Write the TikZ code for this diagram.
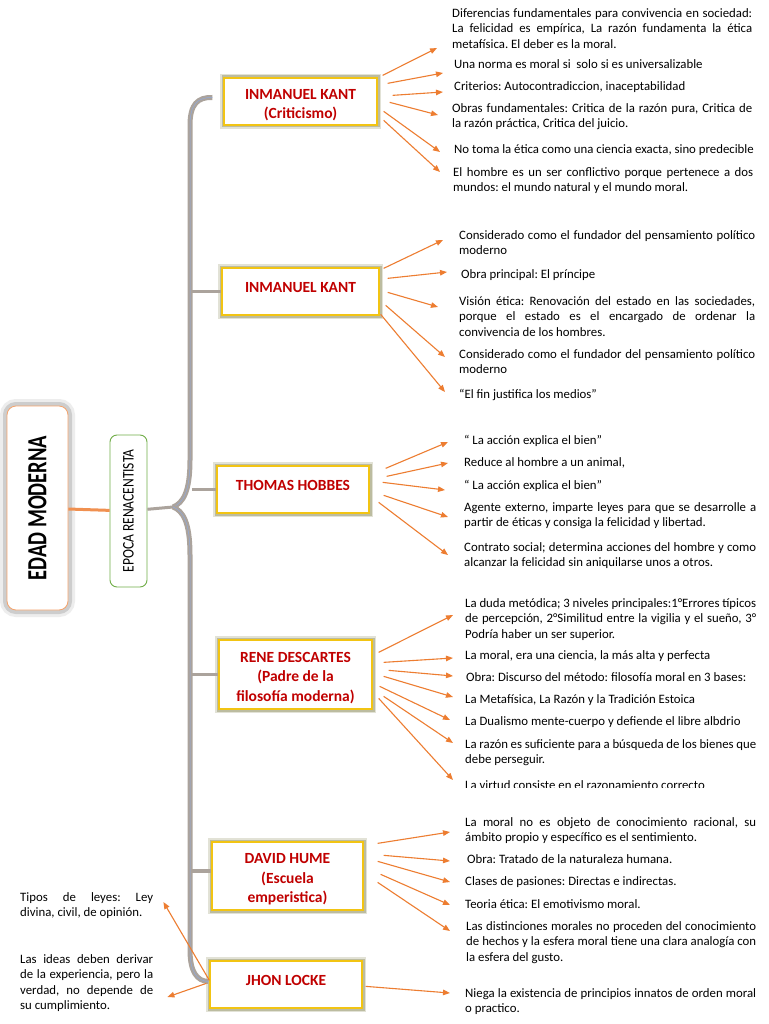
\documentclass[tikz,border=0pt]{standalone}
\usepackage{fontspec}
\setmainfont{Carlito}
\usetikzlibrary{arrows.meta,calc}
\definecolor{arrc}{HTML}{ED7D31}
\definecolor{titc}{HTML}{C00000}
\definecolor{boxb}{HTML}{F2C413}
\definecolor{shad}{HTML}{ADAD8A}
\definecolor{brc}{HTML}{ABA39C}
\definecolor{brl}{HTML}{8FAADC}
\definecolor{edadb}{HTML}{F4A36C}
\definecolor{epocb}{HTML}{70AD47}
\tikzset{
 phil/.style={draw=boxb, line width=1.3pt, fill=white, text=titc,
   font={\fontsize{15.5}{19.5}\selectfont\bfseries}, align=center, inner sep=0pt,
   preaction={draw=shad, line width=8pt, opacity=0.35},
   preaction={draw=shad, line width=5pt, opacity=0.7}},
 txt/.style={anchor=north west, inner sep=0pt, text width=#1, align=justify,
   font={\fontsize{12.8}{15.5}\selectfont\frenchspacing}, text=black},
 txt/.default=300pt,
 one/.style={anchor=north west, inner sep=0pt,
   font={\fontsize{12.8}{15.5}\selectfont\frenchspacing}, text=black},
 arw/.style={draw=arrc, line width=1.1pt, -{Triangle[length=7pt,width=5.5pt]}},
 stub/.style={draw=brc, line width=3.2pt},
 bracel/.style={draw=brc, line width=5pt, postaction={draw=brl, line width=0.5pt}},
}
\newcommand{\upr}{\rule[-9pt]{0pt}{9pt}}
\newcommand{\dnr}{\rule{0pt}{17pt}}
\frenchspacing
\begin{document}
\begin{tikzpicture}[x=1pt,y=-1pt]
\useasboundingbox[fill=white] (0,0) rectangle (768,1024);

% ---- left column
\node[draw=edadb, line width=0.8pt, rounded corners=9pt, fill=white, rotate=90,
      minimum width=204pt, minimum height=61pt, inner sep=0pt,
      preaction={draw=gray!40, line width=14pt, opacity=0.35},
      preaction={draw=gray!55, line width=8pt, opacity=0.6},
      font={\fontsize{20.5}{24}\selectfont\bfseries}] (edad) at (37.5,508)
      {\scalebox{1}[1.35]{EDAD MODERNA}};
\node[draw=epocb, line width=0.9pt, rounded corners=7pt, fill=white, rotate=90,
      minimum width=152pt, minimum height=37pt, inner sep=0pt,
      font={\fontsize{13.5}{16}\selectfont}] (ep) at (128.5,511)
      {\scalebox{1}[1.2]{EPOCA RENACENTISTA}};
\draw[draw=arrc!85, line width=3pt] (edad) -- (ep);

% ---- philosopher boxes
\node[phil, minimum width=153pt, minimum height=47pt] (k1) at (300.5,101.5) {\dnr INMANUEL KANT\\(Criticismo)};
\node[phil, minimum width=157pt, minimum height=47pt] (k2) at (300.5,291.5) {\upr INMANUEL KANT};
\node[phil, minimum width=152pt, minimum height=47pt] (hb) at (293,489.5) {\upr THOMAS HOBBES};
\node[phil, minimum width=153pt, minimum height=69pt] (ds) at (295.5,674.5) {\dnr RENE DESCARTES\\(Padre de la\\filosofía moderna)};
\node[phil, minimum width=151pt, minimum height=68pt] (hm) at (287.5,876) {\dnr DAVID HUME\\(Escuela\\emperistica)};
\node[phil, minimum width=152pt, minimum height=47pt] (lk) at (286,984.5) {\upr JHON LOCKE};

% ---- brace
\coordinate (br) at (173,507);
\coordinate (sp) at (190,500);
\draw[brc, line width=3pt] (ep) -- (br);
\draw[bracel] (br) .. controls (183,503) and (190,492) .. (190,460) -- (190,125)
   .. controls (190,104) and (198,97) .. ([shift={(-11,-4)}]k1.west);
\draw[bracel] (br) .. controls (183,511) and (190,522) .. (190,555) -- (190,950)
   .. controls (190,972) and (197,981) .. ([shift={(-1,-3)}]lk.west);
\coordinate (hmst) at ([yshift=5pt]hm.west);
\draw[stub] ([xshift=2pt]k2.west -| sp) -- (k2.west);
\draw[stub] ([xshift=2pt]hb.west -| sp) -- (hb.west);
\draw[stub] ([xshift=2pt]ds.west -| sp) -- (ds.west);
\draw[stub] ([xshift=2pt]hmst -| sp) -- (hmst);

% ---- Kant (Criticismo)
\node[txt] (k1a) at (452,8) {Diferencias fundamentales para convivencia en sociedad:\linebreak La felicidad es empírica, La razón fundamenta la ética\linebreak metafísica. El deber es la moral.};
\node[one] (k1b) at (454,59) {Una norma es moral si \ solo si es universalizable};
\node[one] (k1c) at (454,81) {Criterios: Autocontradiccion, inaceptabilidad};
\node[txt] (k1d) at (452,103) {Obras fundamentales: Critica de la razón pura, Critica de\linebreak la razón práctica, Critica del juicio.};
\node[one] (k1e) at (454,144) {No toma la ética como una ciencia exacta, sino predecible};
\node[txt] (k1f) at (453,167) {El hombre es un ser conflictivo porque pertenece a dos\linebreak mundos: el mundo natural y el mundo moral.};
\draw[arw] ([shift={(5,-2)}]k1.north east) -- ([shift={(-15,40)}]k1a.north west);
\draw[arw] ([shift={(10,6)}]k1.north east) -- ([shift={(-11,14)}]k1b.north west);
\draw[arw] ([shift={(15,18)}]k1.north east) -- ([shift={(-11,11)}]k1c.north west);
\draw[arw] ([shift={(12,25)}]k1.north east) -- ([shift={(-14,12)}]k1d.north west);
\draw[arw] ([shift={(6,34)}]k1.north east) -- ([shift={(-14,8)}]k1e.north west);
\draw[arw] ([shift={(6,43)}]k1.north east) -- ([shift={(-13,5)}]k1f.north west);

% ---- Kant 2
\node[txt=296pt] (k2a) at (459,230) {Considerado como el fundador del pensamiento político\linebreak moderno};
\node[one] (k2b) at (461,269) {Obra principal: El príncipe};
\node[txt=296pt] (k2c) at (459,296) {Visión ética: Renovación del estado en las sociedades,\linebreak porque el estado es el encargado de ordenar la\linebreak convivencia de los hombres.};
\node[txt=296pt] (k2d) at (459,349) {Considerado como el fundador del pensamiento político\linebreak moderno};
\node[one] (k2e) at (459,389) {“El fin justifica los medios”};
\draw[arw] ([shift={(4,1)}]k2.north east) -- ([shift={(-16,10)}]k2a.north west);
\draw[arw] ([shift={(8,11)}]k2.north east) -- ([shift={(-14,3)}]k2b.north west);
\draw[arw] ([shift={(8,25)}]k2.north east) -- ([shift={(-21,11)}]k2c.north west);
\draw[arw] ([shift={(6,38)}]k2.north east) -- ([shift={(-14,8)}]k2d.north west);
\draw[arw] ([shift={(1,47)}]k2.north east) -- ([shift={(-14,3)}]k2e.north west);

% ---- Hobbes
\node[one] (h1) at (464,435) {“ La acción explica el bien”};
\node[one] (h2) at (464,457) {Reduce al hombre a un animal,};
\node[one] (h3) at (464,480) {“ La acción explica el bien”};
\node[txt=292pt] (h4) at (464,502) {Agente externo, imparte leyes para que se desarrolle a\linebreak partir de éticas y consiga la felicidad y libertad.};
\node[txt=292pt] (h5) at (464,542) {Contrato social; determina acciones del hombre y como\linebreak alcanzar la felicidad sin aniquilarse unos a otros.};
\draw[arw] ([shift={(16,3)}]hb.north east) -- ([shift={(-16,7)}]h1.north west);
\draw[arw] ([shift={(17,11)}]hb.north east) -- ([shift={(-16,6)}]h2.north west);
\draw[arw] ([shift={(13,17)}]hb.north east) -- ([shift={(-19,10)}]h3.north west);
\draw[arw] ([shift={(14,30)}]hb.north east) -- ([shift={(-16,15)}]h4.north west);
\draw[arw] ([shift={(9,37)}]hb.north east) -- ([shift={(-16,13)}]h5.north west);

% ---- Descartes
\node[txt=291pt] (d1) at (465,598) {La duda metódica; 3 niveles principales:1°Errores típicos\linebreak de percepción, 2°Similitud entre la vigilia y el sueño, 3°\linebreak Podría haber un ser superior.};
\node[one] (d2) at (465,650) {La moral, era una ciencia, la más alta y perfecta};
\node[one] (d3) at (466,672) {Obra: Discurso del método: filosofía moral en 3 bases:};
\node[one] (d4) at (465,694) {La Metafísica, La Razón y la Tradición Estoica};
\node[one] (d5) at (465,716) {La Dualismo mente-cuerpo y defiende el libre albdrio};
\node[txt=291pt] (d6) at (465,739) {La razón es suficiente para a búsqueda de los bienes que\linebreak debe perseguir.};
\begin{scope}
\clip (440,770) rectangle (768,787.5);
\node[one] (d7) at (465,780) {La virtud consiste en el razonamiento correcto};
\end{scope}
\draw[arw] ([shift={(6,13)}]ds.north east) -- ([shift={(-12,17)}]d1.north west);
\draw[arw] ([shift={(11,23)}]ds.north east) -- ([shift={(-12,8)}]d2.north west);
\draw[arw] ([shift={(16,31)}]ds.north east) -- ([shift={(-13,4)}]d3.north west);
\draw[arw] ([shift={(11,37)}]ds.north east) -- ([shift={(-12,3)}]d4.north west);
\draw[arw] ([shift={(7,47)}]ds.north east) -- ([shift={(-15,4)}]d5.north west);
\draw[arw] ([shift={(11,57)}]ds.north east) -- ([shift={(-12,4)}]d6.north west);
\draw[arw] ([shift={(6,59)}]ds.north east) -- ([shift={(-12,0)}]d7.north west);

% ---- Hume
\node[txt=291pt] (u1) at (465,817) {La moral no es objeto de conocimiento racional, su\linebreak ámbito propio y específico es el sentimiento.};
\node[one] (u2) at (467,854) {Obra: Tratado de la naturaleza humana.};
\node[one] (u3) at (465,876) {Clases de pasiones: Directas e indirectas.};
\node[one] (u4) at (465,899) {Teoria ética: El emotivismo moral.};
\node[txt=290pt] (u5) at (466,921) {Las distinciones morales no proceden del conocimiento\linebreak de hechos y la esfera moral tiene una clara analogía con\linebreak la esfera del gusto.};
\draw[arw] ([shift={(14,2)}]hm.north east) -- ([shift={(-15,15)}]u1.north west);
\draw[arw] ([shift={(20,14)}]hm.north east) -- ([shift={(-17,7)}]u2.north west);
\draw[arw] ([shift={(14,20)}]hm.north east) -- ([shift={(-15,6)}]u3.north west);
\draw[arw] ([shift={(17,33)}]hm.north east) -- ([shift={(-15,6)}]u4.north west);
\draw[arw] ([shift={(14,41)}]hm.north east) -- ([shift={(-16,10)}]u5.north west);

% ---- Locke
\node[txt=291pt] (l1) at (465,988) {Niega la existencia de principios innatos de orden moral\linebreak o practico.};
\node[txt=133pt] (l2) at (20,892) {Tipos de leyes: Ley\linebreak divina, civil, de opinión.};
\node[txt=133pt] (l3) at (20,954) {Las ideas deben derivar\linebreak de la experiencia, pero la\linebreak verdad, no depende de\linebreak su cumplimiento.};
\draw[arw] ([shift={(3,26)}]lk.north east) -- ([shift={(-15,5)}]l1.north west);
\draw[arw] ([shift={(0,20)}]lk.north west) -- ([shift={(10,10)}]l2.north east);
\draw[arw] ([shift={(-3,23)}]lk.north west) -- ([shift={(14,43)}]l3.north east);
\end{tikzpicture}
\end{document}
